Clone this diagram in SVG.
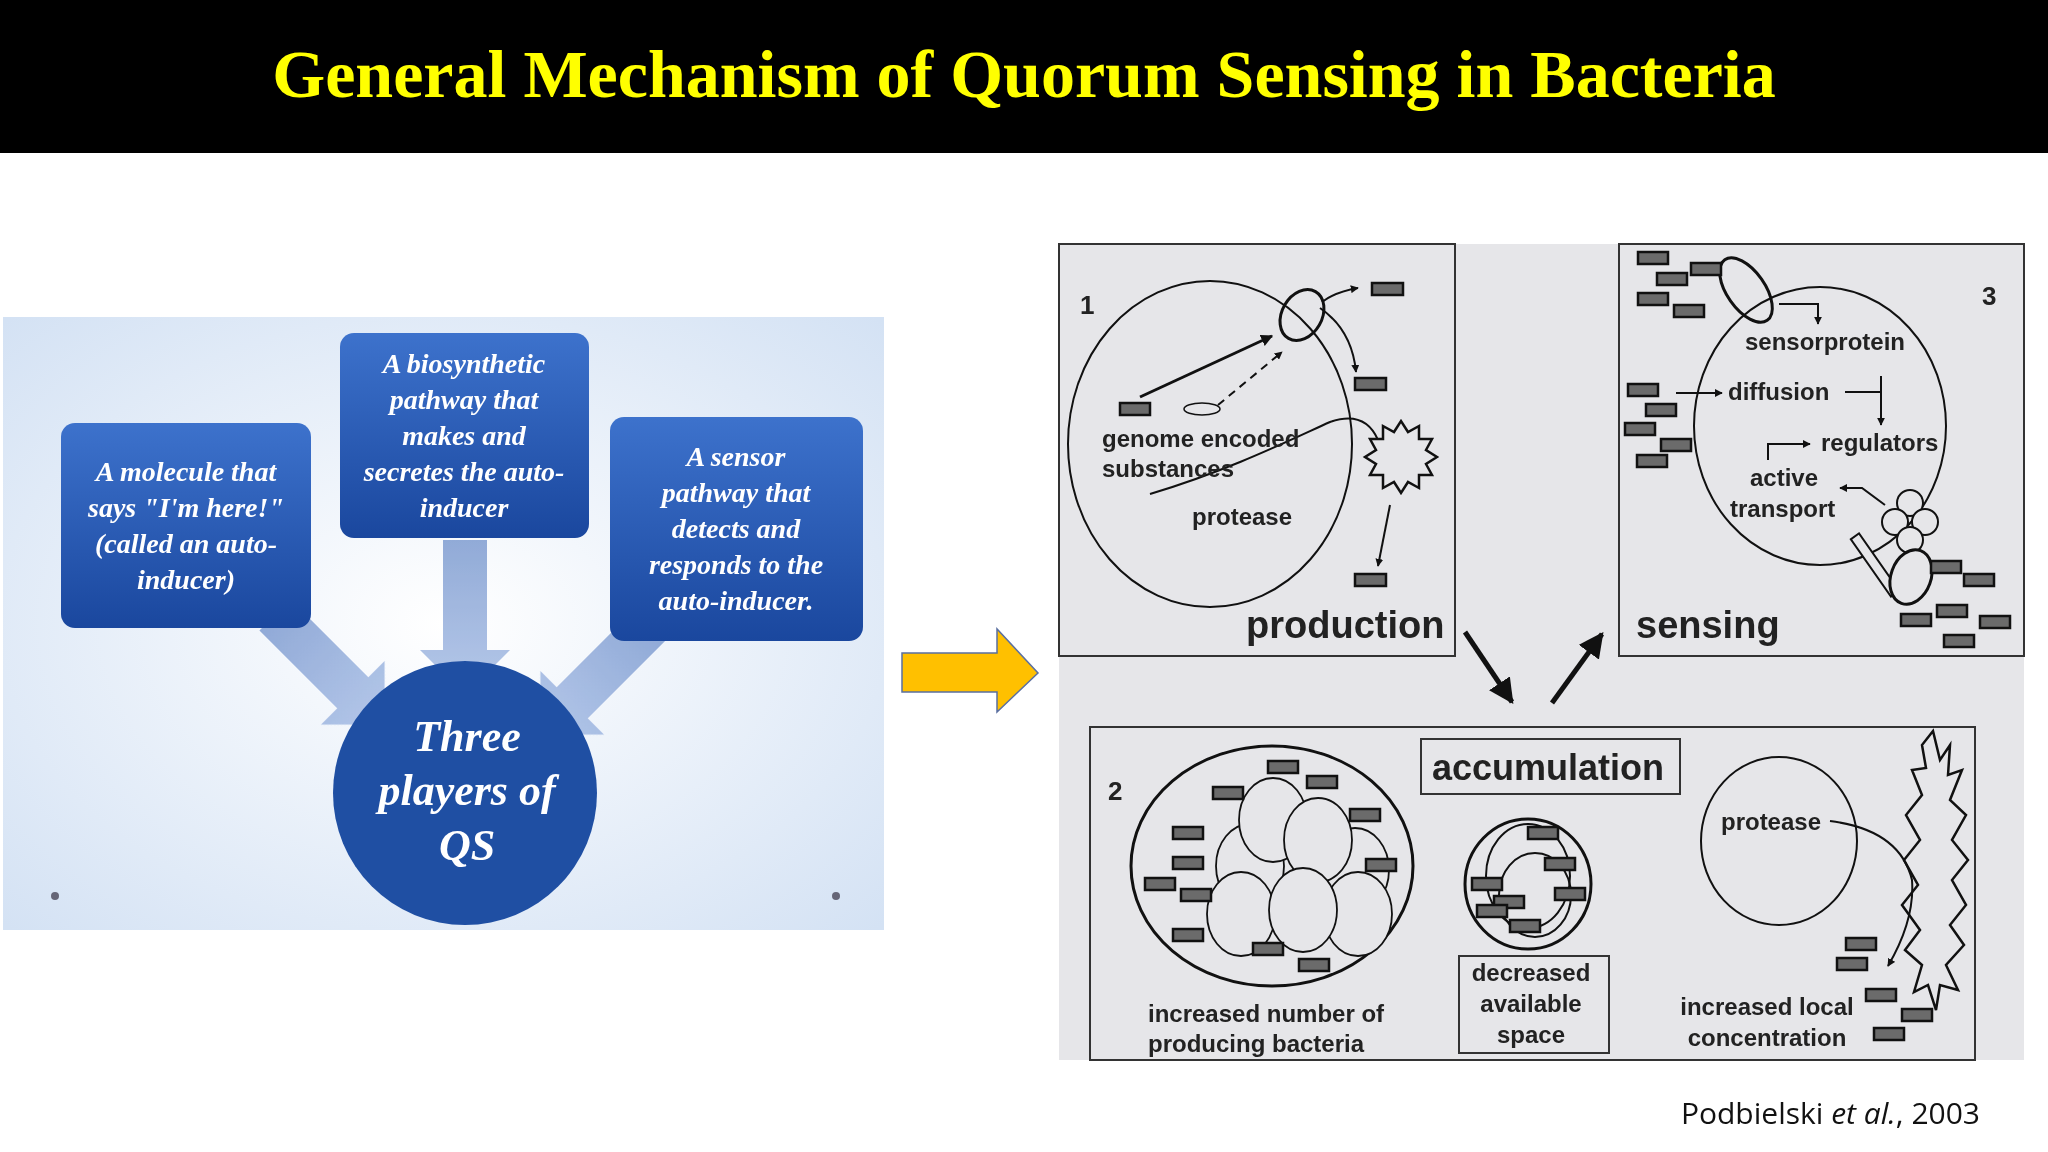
<svg xmlns="http://www.w3.org/2000/svg" width="2048" height="1152" viewBox="0 0 2048 1152">
<defs>
<radialGradient id="bg" cx="0.5" cy="0.5" r="0.7"><stop offset="0" stop-color="#ffffff"/><stop offset="1" stop-color="#d4e2f4"/></radialGradient>
<linearGradient id="bx" x1="0" y1="0" x2="0" y2="1"><stop offset="0" stop-color="#3d72cc"/><stop offset="1" stop-color="#1a479e"/></linearGradient>
<linearGradient id="ar" x1="0" y1="0" x2="0" y2="1"><stop offset="0" stop-color="#7f9cd0"/><stop offset="1" stop-color="#a9bfe6"/></linearGradient>
<marker id="ah" viewBox="0 0 10 10" refX="9" refY="5" markerWidth="5" markerHeight="5" orient="auto"><path d="M0,0L10,5L0,10z" fill="#111"/></marker>
<marker id="ahb" viewBox="0 0 10 10" refX="9" refY="5" markerWidth="4" markerHeight="4" orient="auto"><path d="M0,0L10,5L0,10z" fill="#111"/></marker>
<path id="bigarrow" d="M-22,0H22V110H45L0,155L-45,110H-22z"/>
</defs>
<style>
.it{font-family:"Liberation Serif",serif;font-style:italic;font-weight:bold;fill:#fff;font-size:28px;text-anchor:middle}
.it2{font-size:44px}
.lb{font-family:"Liberation Sans",Arial,sans-serif;font-weight:bold;fill:#222;font-size:24px}
.num{font-size:26px}
.big{font-family:"Liberation Sans",Arial,sans-serif;font-weight:bold;fill:#222;font-size:38px}
.acc{font-size:36px}
.m{fill:#6b6b6b;stroke:#111;stroke-width:2.5}
.ln{fill:none;stroke:#111;stroke-width:2}
.th{fill:none;stroke:#111;stroke-width:3}
.pn{fill:none;stroke:#333;stroke-width:2}
.cell{fill:#e6e6e9;stroke:#111;stroke-width:1.8}
</style>
<rect width="2048" height="1152" fill="#fff"/>
<rect width="2048" height="153" fill="#000"/>
<text x="1024" y="97" font-family="Liberation Serif,serif" font-weight="bold" font-size="68" fill="#ffff00" text-anchor="middle">General Mechanism of Quorum Sensing in Bacteria</text>

<g id="left-panel">
<rect x="3" y="317" width="881" height="613" fill="url(#bg)"/>
<circle cx="55" cy="896" r="4" fill="#667"/><circle cx="836" cy="896" r="4" fill="#667"/>
</g>
<g id="qs-arrows" fill="url(#ar)" opacity="0.85">
<use href="#bigarrow" transform="translate(465,540)"/>
<use href="#bigarrow" transform="translate(275,615) rotate(-45)"/>
<use href="#bigarrow" transform="translate(650,625) rotate(45)"/>
</g>
<g id="box-a"><rect x="61" y="423" width="250" height="205" rx="14" fill="url(#bx)"/>
<text class="it"><tspan x="186" y="481">A molecule  that</tspan><tspan x="186" y="517">says "I'm here!"</tspan><tspan x="186" y="553">(called  an auto-</tspan><tspan x="186" y="589">inducer)</tspan></text></g>
<g id="box-b"><rect x="340" y="333" width="249" height="205" rx="14" fill="url(#bx)"/>
<text class="it"><tspan x="464" y="373">A biosynthetic</tspan><tspan x="464" y="409">pathway that</tspan><tspan x="464" y="445">makes and</tspan><tspan x="464" y="481">secretes the auto-</tspan><tspan x="464" y="517">inducer</tspan></text></g>
<g id="box-c"><rect x="610" y="417" width="253" height="224" rx="14" fill="url(#bx)"/>
<text class="it"><tspan x="736" y="466">A sensor</tspan><tspan x="736" y="502">pathway that</tspan><tspan x="736" y="538">detects and</tspan><tspan x="736" y="574">responds to the</tspan><tspan x="736" y="610">auto-inducer.</tspan></text></g>
<g id="circle-qs"><circle cx="465" cy="793" r="132" fill="#1f4fa3"/>
<text class="it it2"><tspan x="467" y="751">Three</tspan><tspan x="467" y="805">players of</tspan><tspan x="467" y="860">QS</tspan></text></g>

<g id="yellow-arrow"><path d="M902,653H997V629L1038,673L997,712V692H902z" fill="#ffc000" stroke="#5a6fa0" stroke-width="1.5"/></g>

<g id="figure-bg"><rect x="1059" y="244" width="965" height="816" fill="#e6e6e9"/></g>

<g id="panel1">
<rect x="1059" y="244" width="396" height="412" class="pn"/>
<text x="1080" y="314" class="lb num">1</text>
<ellipse cx="1210" cy="444" rx="142" ry="163" class="ln" stroke-width="1.5"/>
<ellipse cx="1302" cy="315" rx="20" ry="27" transform="rotate(30 1302 315)" fill="#e6e6e9" class="th"/>
<rect x="1120" y="403" width="30" height="12" class="m"/>
<ellipse cx="1202" cy="409" rx="18" ry="6" fill="#e6e6e9" stroke="#111" stroke-width="1.5"/>
<line x1="1140" y1="397" x2="1272" y2="336" class="th" marker-end="url(#ahb)"/>
<line x1="1218" y1="405" x2="1282" y2="352" class="ln" stroke-dasharray="8,6" marker-end="url(#ahb)"/>
<path d="M1322,302Q1335,292 1358,288" class="ln" stroke-width="2.5" marker-end="url(#ahb)"/>
<path d="M1320,308Q1352,330 1356,372" class="ln" stroke-width="2.5" marker-end="url(#ahb)"/>
<rect x="1372" y="283" width="31" height="12" class="m"/>
<rect x="1355" y="378" width="31" height="12" class="m"/>
<rect x="1355" y="574" width="31" height="12" class="m"/>
<path d="M1150,494C1230,470 1290,440 1330,422Q1365,410 1378,440" class="ln" stroke-width="2.5"/>
<polygon points="1437,457 1426,464 1432,475 1419,475 1419,488 1408,482 1401,493 1394,482 1383,488 1383,475 1370,475 1376,464 1365,457 1376,450 1370,439 1383,439 1383,426 1394,432 1401,421 1408,432 1419,426 1419,439 1432,439 1426,450" fill="#e6e6e9" stroke="#111" stroke-width="2.5"/>
<line x1="1390" y1="505" x2="1378" y2="566" class="ln" stroke-width="2.5" marker-end="url(#ahb)"/>
<text class="lb"><tspan x="1102" y="447">genome encoded</tspan><tspan x="1102" y="477">substances</tspan></text>
<text x="1192" y="525" class="lb">protease</text>
<text x="1246" y="638" class="big">production</text>
</g>

<g id="panel3">
<rect x="1619" y="244" width="405" height="412" class="pn"/>
<text x="1982" y="305" class="lb num">3</text>
<ellipse cx="1820" cy="426" rx="126" ry="139" class="ln" stroke-width="1.5"/>
<ellipse cx="1746" cy="290" rx="19" ry="37" transform="rotate(-35 1746 290)" fill="#e6e6e9" class="th"/>
<rect x="1638" y="252" width="30" height="12" class="m"/><rect x="1657" y="273" width="30" height="12" class="m"/><rect x="1691" y="263" width="30" height="12" class="m"/><rect x="1638" y="293" width="30" height="12" class="m"/><rect x="1674" y="305" width="30" height="12" class="m"/>
<rect x="1628" y="384" width="30" height="12" class="m"/><rect x="1646" y="404" width="30" height="12" class="m"/><rect x="1625" y="423" width="30" height="12" class="m"/><rect x="1661" y="439" width="30" height="12" class="m"/><rect x="1637" y="455" width="30" height="12" class="m"/>
<path d="M1779,304H1818V324" class="ln" stroke-width="2.5" marker-end="url(#ahb)"/>
<text x="1745" y="350" class="lb">sensorprotein</text>
<line x1="1676" y1="393" x2="1722" y2="393" class="ln" stroke-width="2.5" marker-end="url(#ahb)"/>
<text x="1728" y="400" class="lb">diffusion</text>
<path d="M1845,392H1881" class="ln" stroke-width="2.5"/><path d="M1881,376V425" class="ln" stroke-width="2.5" marker-end="url(#ahb)"/>
<text x="1821" y="451" class="lb">regulators</text>
<path d="M1768,460V444H1810" class="ln" stroke-width="2.5" marker-end="url(#ahb)"/>
<text class="lb"><tspan x="1750" y="486">active</tspan><tspan x="1730" y="517">transport</tspan></text>
<path d="M1885,505L1862,488H1840" class="ln" stroke-width="2.5" marker-end="url(#ahb)"/>
<g fill="#e6e6e9" stroke="#111" stroke-width="2">
<rect x="1870" y="530" width="10" height="70" transform="rotate(-35 1875 565)"/>
<circle cx="1910" cy="503" r="13"/><circle cx="1895" cy="522" r="13"/><circle cx="1925" cy="522" r="13"/><circle cx="1910" cy="540" r="13"/>
<ellipse cx="1911" cy="577" rx="20" ry="28" transform="rotate(20 1911 577)" stroke-width="3"/>
</g>
<rect x="1931" y="561" width="30" height="12" class="m"/><rect x="1964" y="574" width="30" height="12" class="m"/><rect x="1901" y="614" width="30" height="12" class="m"/><rect x="1937" y="605" width="30" height="12" class="m"/><rect x="1980" y="616" width="30" height="12" class="m"/><rect x="1944" y="635" width="30" height="12" class="m"/>
<text x="1636" y="638" class="big">sensing</text>
</g>

<g id="connectors">
<line x1="1465" y1="632" x2="1512" y2="702" stroke="#111" stroke-width="5" marker-end="url(#ah)"/>
<line x1="1552" y1="703" x2="1602" y2="634" stroke="#111" stroke-width="5" marker-end="url(#ah)"/>
</g>

<g id="panel2">
<rect x="1090" y="727" width="885" height="333" class="pn"/>
<text x="1108" y="800" class="lb num">2</text>
<ellipse cx="1272" cy="866" rx="141" ry="120" class="th" stroke-width="3.5"/>
<ellipse cx="1250" cy="866" rx="34" ry="42" class="cell"/><ellipse cx="1355" cy="870" rx="34" ry="42" class="cell"/><ellipse cx="1241" cy="914" rx="34" ry="42" class="cell"/><ellipse cx="1358" cy="914" rx="34" ry="42" class="cell"/><ellipse cx="1273" cy="820" rx="34" ry="42" class="cell"/><ellipse cx="1318" cy="840" rx="34" ry="42" class="cell"/><ellipse cx="1303" cy="910" rx="34" ry="42" class="cell"/>
<rect x="1268" y="761" width="30" height="12" class="m"/><rect x="1307" y="776" width="30" height="12" class="m"/><rect x="1213" y="787" width="30" height="12" class="m"/><rect x="1350" y="809" width="30" height="12" class="m"/><rect x="1173" y="827" width="30" height="12" class="m"/><rect x="1173" y="857" width="30" height="12" class="m"/><rect x="1366" y="859" width="30" height="12" class="m"/><rect x="1145" y="878" width="30" height="12" class="m"/><rect x="1181" y="889" width="30" height="12" class="m"/><rect x="1173" y="929" width="30" height="12" class="m"/><rect x="1253" y="943" width="30" height="12" class="m"/><rect x="1299" y="959" width="30" height="12" class="m"/>
<text class="lb"><tspan x="1148" y="1022">increased number of</tspan><tspan x="1148" y="1052">producing bacteria</tspan></text>
<rect x="1421" y="739" width="259" height="55" fill="none" stroke="#333" stroke-width="2"/>
<text x="1548" y="780" class="big acc" text-anchor="middle">accumulation</text>
<ellipse cx="1528" cy="884" rx="63" ry="65" class="th" stroke-width="3.5"/>
<ellipse cx="1528" cy="876" rx="42" ry="52" class="ln" stroke-width="1.8"/>
<ellipse cx="1535" cy="895" rx="36" ry="42" class="ln" stroke-width="1.8"/>
<rect x="1528" y="827" width="30" height="12" class="m"/><rect x="1545" y="858" width="30" height="12" class="m"/><rect x="1472" y="878" width="30" height="12" class="m"/><rect x="1555" y="888" width="30" height="12" class="m"/><rect x="1494" y="896" width="30" height="12" class="m"/><rect x="1477" y="905" width="30" height="12" class="m"/><rect x="1510" y="920" width="30" height="12" class="m"/>
<rect x="1459" y="956" width="150" height="97" fill="none" stroke="#333" stroke-width="2"/>
<text class="lb" text-anchor="middle"><tspan x="1531" y="981">decreased</tspan><tspan x="1531" y="1012">available</tspan><tspan x="1531" y="1043">space</tspan></text>
<ellipse cx="1779" cy="841" rx="78" ry="84" class="ln" stroke-width="1.5"/>
<text x="1771" y="830" class="lb" text-anchor="middle">protease</text>
<polygon points="1933,731 1940,760 1950,745 1948,775 1962,770 1950,800 1966,815 1952,840 1968,860 1952,880 1966,905 1950,925 1964,945 1946,965 1958,990 1940,985 1936,1010 1928,985 1914,992 1922,965 1905,950 1920,930 1902,905 1918,885 1904,860 1920,840 1906,815 1922,795 1912,770 1926,768 1922,745" fill="#e6e6e9" stroke="#111" stroke-width="2.5"/>
<path d="M1830,821Q1900,830 1912,880Q1915,920 1888,966" class="ln" stroke-width="2.5" marker-end="url(#ahb)"/>
<rect x="1846" y="938" width="30" height="12" class="m"/><rect x="1837" y="958" width="30" height="12" class="m"/><rect x="1866" y="989" width="30" height="12" class="m"/><rect x="1902" y="1009" width="30" height="12" class="m"/><rect x="1874" y="1028" width="30" height="12" class="m"/>
<text class="lb" text-anchor="middle"><tspan x="1767" y="1015">increased local</tspan><tspan x="1767" y="1046">concentration</tspan></text>
</g>

<text x="1980" y="1124" font-family="Open Sans,Liberation Sans,sans-serif" font-size="30" fill="#111" text-anchor="end">Podbielski <tspan font-style="italic">et al.</tspan>, 2003</text>
</svg>
